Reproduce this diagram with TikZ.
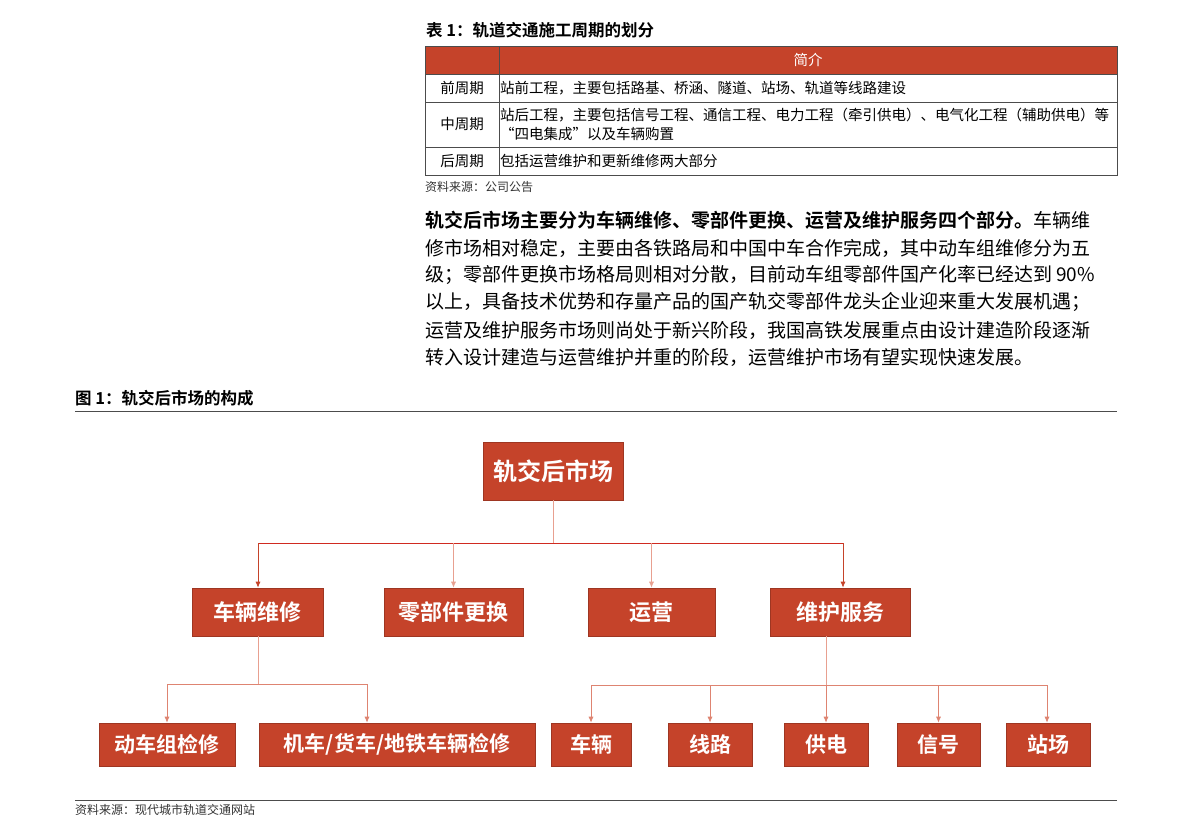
\documentclass[tikz,border=0pt]{standalone}
\usepackage{fontspec}
\usetikzlibrary{arrows.meta}
\setmainfont{Noto Sans CJK SC}[BoldFont={Noto Sans CJK SC Bold}]
\definecolor{rust}{HTML}{C5432A}
\definecolor{salmon}{HTML}{E8A090}
\definecolor{bus}{HTML}{D02A20}
\begin{document}
\begin{tikzpicture}[x=1pt,y=-1pt,
  box/.style={fill=rust,draw=rust!80!black,line width=0.6pt,text=white,font=\bfseries\fontsize{22}{24}\selectfont,inner sep=0pt,minimum height=48pt},
  leaf/.style={box,font=\bfseries\fontsize{21}{23}\selectfont,minimum height=43pt},
  drop/.style={draw=salmon,line width=1pt},
  hbus/.style={draw=bus,line width=0.9pt},
  arr/.style={draw=rust,line width=0.8pt,-{Latex[length=6pt,width=5pt]}},
  txt/.style={anchor=west,inner sep=0pt,font=\fontsize{19}{21}\selectfont},
  tb/.style={inner sep=0pt,font=\fontsize{14.5}{16}\selectfont}]
\useasboundingbox (0,0) rectangle (1191,836);
\fill[white] (0,0) rectangle (1191,836);
% table
\node[anchor=west,inner sep=0pt,font=\bfseries\fontsize{16.5}{18}\selectfont] (t1) at (426,30) {表 1：轨道交通施工周期的划分};
\fill[rust] (425,46) rectangle (1117,74);
\draw[line width=0.8pt,black!70] (425,46) rectangle (1117,175);
\foreach \y in {74,102,147} \draw[line width=0.8pt,black!70] (425,\y) -- (1117,\y);
\draw[line width=0.8pt,black!70] (499,46) -- (499,175);
\node[tb,text=white] (hd) at (808,60) {简介};
\node[tb] (r1) at (462,88) {前周期};
\node[tb] (r2) at (462,124.5) {中周期};
\node[tb] (r3) at (462,161) {后周期};
\node[tb,anchor=west] (c1) at (500,88) {站前工程，主要包括路基、桥涵、隧道、站场、轨道等线路建设};
\node[tb,anchor=west] (c2a) at (500,115) {站后工程，主要包括信号工程、通信工程、电力工程（牵引供电）、电气化工程（辅助供电）等};
\node[tb,anchor=west] (c2b) at (500,134) {“四电集成”以及车辆购置};
\node[tb,anchor=west] (c3) at (500,161) {包括运营维护和更新维修两大部分};
\node[anchor=west,inner sep=0pt,font=\fontsize{12}{14}\selectfont,text=black!80] (s1) at (425,187) {资料来源：公司公告};
% paragraph
\node[txt] (p1) at (425,220) {\textbf{轨交后市场主要分为车辆维修、零部件更换、运营及维护服务四个部分。}车辆维};
\node[txt] (p2) at (425,248) {修市场相对稳定，主要由各铁路局和中国中车合作完成，其中动车组维修分为五};
\node[txt] (p3) at (425,275) {级；零部件更换市场格局则相对分散，目前动车组零部件国产化率已经达到 90\%};
\node[txt] (p4) at (425,302) {以上，具备技术优势和存量产品的国产轨交零部件龙头企业迎来重大发展机遇；};
\node[txt] (p5) at (425,330) {运营及维护服务市场则尚处于新兴阶段，我国高铁发展重点由设计建造阶段逐渐};
\node[txt] (p6) at (425,357) {转入设计建造与运营维护并重的阶段，运营维护市场有望实现快速发展。};
% figure title
\node[anchor=west,inner sep=0pt,font=\bfseries\fontsize{16.5}{18}\selectfont] (f1) at (75,398) {图 1：轨交后市场的构成};
\draw[line width=0.8pt,black!70] (75,411) -- (1117,411);
\draw[line width=0.8pt,black!70] (75,800) -- (1117,800);
\node[anchor=west,inner sep=0pt,font=\fontsize{12}{14}\selectfont,text=black!80] (s2) at (75,810) {资料来源：现代城市轨道交通网站};
% diagram
\node[box,minimum width=140pt,minimum height=58pt,font=\bfseries\fontsize{24}{26}\selectfont] (root) at (553,471) {轨交后市场};
\node[box,minimum width=131pt] (a) at (257.5,612) {车辆维修};
\node[box,minimum width=139pt] (b) at (453.5,612) {零部件更换};
\node[box,minimum width=127pt] (c) at (651.5,612) {运营};
\node[box,minimum width=140pt] (d) at (840,612) {维护服务};
\node[leaf,minimum width=136pt] (a1) at (167,744.5) {动车组检修};
\node[leaf,minimum width=276pt] (a2) at (397,744.5) {机车/货车/地铁车辆检修};
\node[leaf,minimum width=80pt] (d1) at (591,744.5) {车辆};
\node[leaf,minimum width=84pt] (d2) at (710,744.5) {线路};
\node[leaf,minimum width=84pt] (d3) at (826,744.5) {供电};
\node[leaf,minimum width=83pt] (d4) at (938.5,744.5) {信号};
\node[leaf,minimum width=84pt] (d5) at (1048,744.5) {站场};
\coordinate (j0) at (553,543);
\coordinate (ja) at (258,543);
\coordinate (jd) at (843,543);
\draw[drop] (root.south) -- (j0);
\draw[hbus] (ja) -- (jd);
\draw[arr] (ja) -- (ja |- a.north);
\draw[arr,draw=salmon] (b.north |- ja) -- (b.north);
\draw[arr,draw=salmon] (c.north |- ja) -- (c.north);
\draw[arr] (jd) -- (jd |- d.north);
\coordinate (ka) at (258,684);
\coordinate (ka1) at (167,684);
\coordinate (ka2) at (367,684);
\draw[drop] (a.south -| ka) -- (ka);
\draw[hbus,draw=salmon!70!rust] (ka1) -- (ka2);
\draw[arr,draw=salmon!70!rust] (ka1) -- (ka1 |- a1.north);
\draw[arr,draw=salmon!70!rust] (ka2) -- (ka2 |- a2.north);
\coordinate (kd) at (826,685);
\coordinate (kd1) at (591,685);
\coordinate (kd5) at (1047,685);
\draw[drop] (d.south -| kd) -- (kd);
\draw[hbus,draw=salmon!70!rust] (kd1) -- (kd5);
\foreach \n in {d1,d2,d3,d4} \draw[arr,draw=salmon!70!rust] (\n.north |- kd) -- (\n.north);
\draw[arr,draw=salmon!70!rust] (kd5) -- (kd5 |- d5.north);
\end{tikzpicture}
\end{document}
